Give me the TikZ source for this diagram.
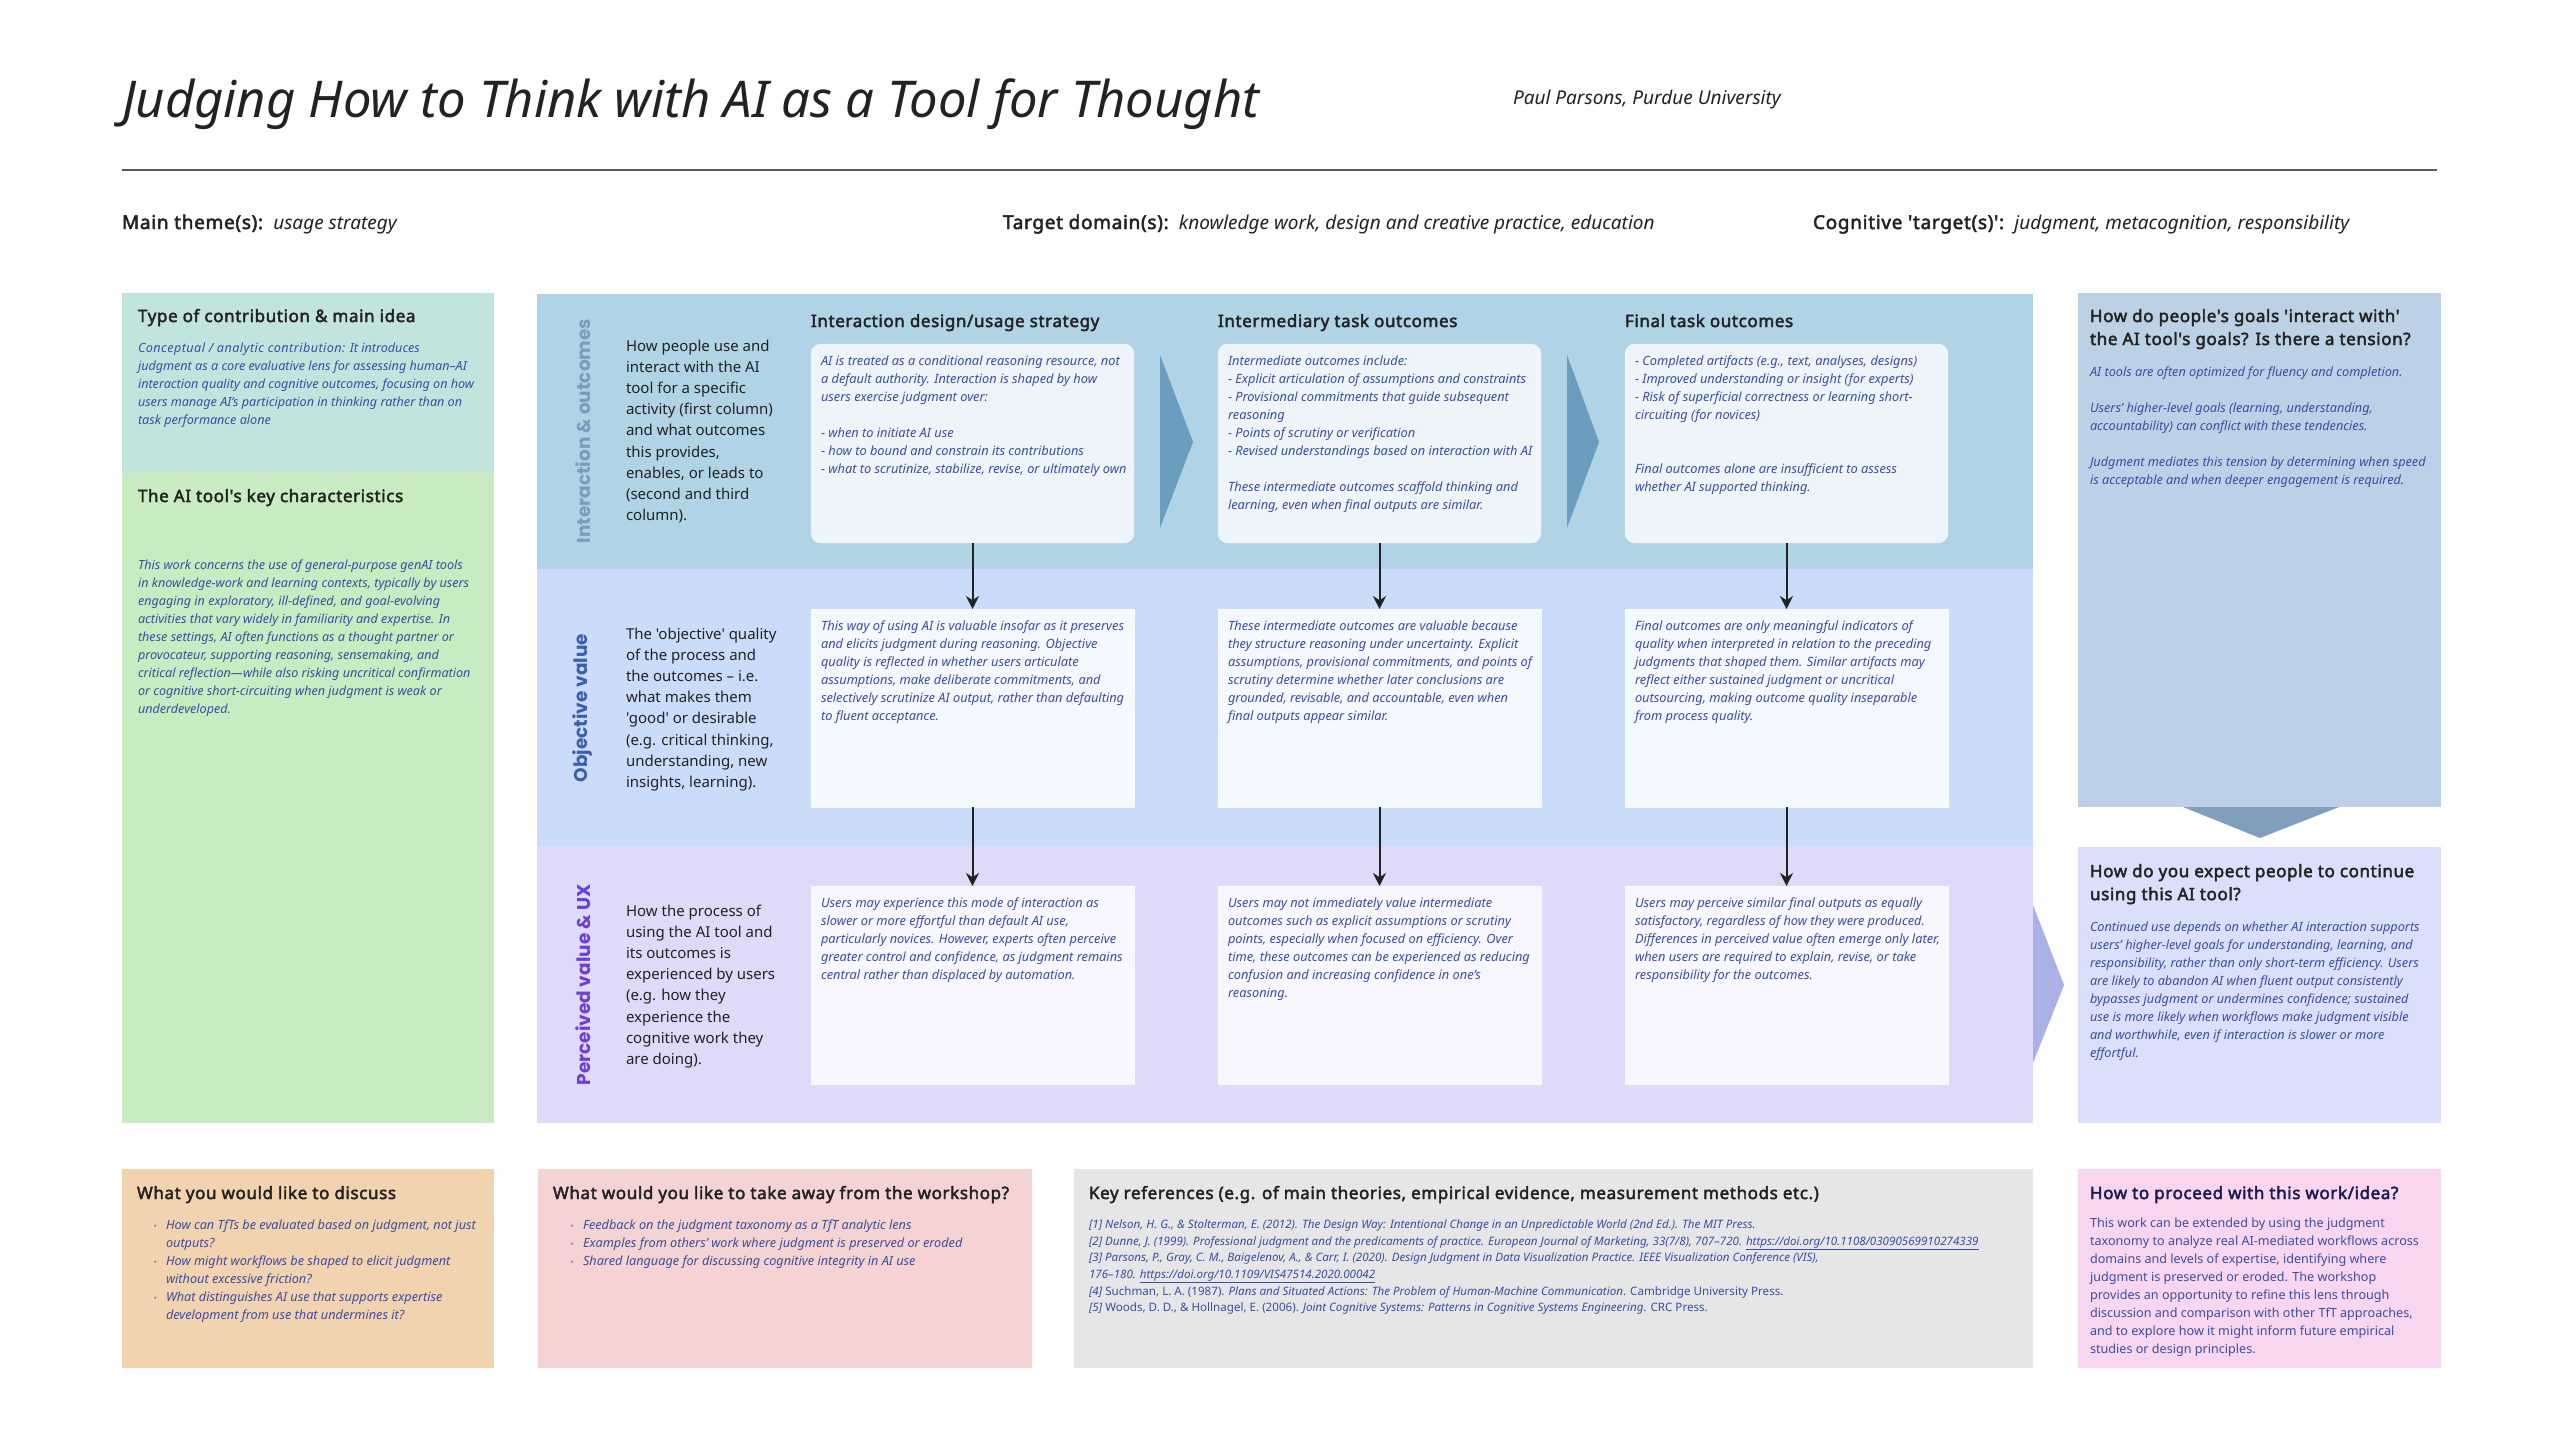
\documentclass[tikz,border=0pt]{standalone}
\usepackage{fontspec}
\setmainfont{Noto Sans}[Ligatures=TeXOff,AutoFakeBold=2.5,BoldFeatures={LetterSpace=3.6},BoldItalicFeatures={LetterSpace=3.6}]
\newcommand\hsz{17}
\newfontfamily\labfont{Poppins}
\usetikzlibrary{arrows.meta}
\definecolor{ink}{HTML}{222222}
\definecolor{tblue}{HTML}{3A4EA3}
\definecolor{rowA}{HTML}{B0D3E6}
\definecolor{rowB}{HTML}{CBDCFA}
\definecolor{rowC}{HTML}{DEDAFA}
\definecolor{boxA}{HTML}{EEF5FA}
\definecolor{boxB}{HTML}{F4F8FF}
\definecolor{boxC}{HTML}{F8F7FF}
\definecolor{chevA}{HTML}{6A9DBE}
\definecolor{chevC}{HTML}{A9B1E6}
\definecolor{chevR}{HTML}{7F9FBD}
\definecolor{rtop}{HTML}{BCD1E6}
\definecolor{rbot}{HTML}{DADFFB}
\definecolor{cteal}{HTML}{C1E4DD}
\definecolor{cgreen}{HTML}{C8EBC1}
\definecolor{corange}{HTML}{F2D3B0}
\definecolor{cpink}{HTML}{F5D3D2}
\definecolor{cgray}{HTML}{E6E6E6}
\definecolor{cmag}{HTML}{F8D6EF}
\definecolor{labA}{HTML}{7B9CBA}
\definecolor{labB}{HTML}{3B5FAE}
\definecolor{labC}{HTML}{6C3FD8}
\newcommand\fsz[2]{\fontsize{#1}{#2}\selectfont}
\newcommand\bul{{\upshape\fsz{9}{18}\textcolor{tblue!70}{•}}\hspace{9pt}}
\begin{document}
\begin{tikzpicture}[x=1pt,y=-1pt,
  every node/.style={inner sep=0pt,outer sep=0pt},
  head/.style={anchor=base west,font=\bfseries\fsz{\hsz}{23},text=ink},
  headml/.style={anchor=north west,align=left,font=\bfseries\fsz{\hsz}{23},text=ink},
  body/.style={anchor=north west,align=left,font=\itshape\fsz{12.6}{18},text=tblue},
  rbody/.style={anchor=north west,align=left,font=\itshape\fsz{12.7}{18},text=tblue},
  cell/.style={anchor=north west,align=left,font=\itshape\fsz{12.8}{18},text=tblue},
  desc/.style={anchor=north west,align=left,font=\fsz{15}{21.2},text=ink},
  rowlab/.style={rotate=90,font=\labfont\bfseries\fsz{18.5}{20}},
  theme/.style={anchor=base west,font=\fsz{19}{20},text=ink},
  cellbox/.style={anchor=north west,minimum width=323pt},
  cbA/.style={cellbox,minimum height=199pt,fill=boxA,draw=white!40!boxA,rounded corners=10pt},
  cbB/.style={cellbox,minimum height=198pt,fill=boxB,draw=white!40!boxB},
  cbC/.style={cellbox,minimum height=198pt,fill=boxC,draw=white!40!boxC},
  arr/.style={-{Stealth[length=13pt,width=13pt]},line width=2pt,draw=ink}]
\useasboundingbox (0,0) rectangle (2556,1454);
\fill[white] (0,0) rectangle (2556,1454);

% header
\node[anchor=base west,font=\itshape\fsz{50.7}{60},text=ink] (title) at (122,117) {Judging How to Think with AI as a Tool for Thought};
\node[anchor=base west,font=\itshape\fsz{19}{20},text=ink] (author) at (1513,104) {Paul Parsons, Purdue University};
\draw[line width=2.5pt,color=black!65] (122,170) -- (2437,170);
\node[theme] (th1) at (122,229) {\textbf{Main theme(s):}\enspace\textit{usage strategy}};
\node[theme] (th2) at (1003,229) {\textbf{Target domain(s):}\enspace\textit{knowledge work, design and creative practice, education}};
\node[theme] (th3) at (1813,229) {\textbf{Cognitive 'target(s)':}\enspace\textit{judgment, metacognition, responsibility}};

% left column
\fill[cteal] (122,293) rectangle (494,472);
\fill[cgreen] (122,472) rectangle (494,1123);
\node[head] (lt1) at (138,322) {Type of contribution \& main idea};
\node[body] (lb1) at (138,340) {\strut\textbf{Conceptual / analytic contribution:} It introduces\\judgment as a core evaluative lens for assessing human–AI\\interaction quality and cognitive outcomes, focusing on how\\users manage AI’s participation in thinking rather than on\\task performance alone};
\node[head] (lt2) at (138,502) {The AI tool's key characteristics};
\node[body] (lb2) at (138,557) {\strut This work concerns the use of general-purpose genAI tools\\in knowledge-work and learning contexts, typically by users\\engaging in exploratory, ill-defined, and goal-evolving\\activities that vary widely in familiarity and expertise. In\\these settings, AI often functions as a thought partner or\\provocateur, supporting reasoning, sensemaking, and\\critical reflection—while also risking uncritical confirmation\\or cognitive short-circuiting when judgment is weak or\\underdeveloped.};

% main panel rows
\fill[rowA] (537,294) rectangle (2033,569);
\fill[rowB] (537,569) rectangle (2033,846);
\fill[rowC] (537,846) rectangle (2033,1123);
\fill[chevC] (2033,905) -- (2064,985) -- (2033,1063) -- cycle;

\node[rowlab,text=labA] (labA) at (583,431) {Interaction \& outcomes};
\node[rowlab,text=labB] (labB) at (583,708) {Objective value};
\node[rowlab,text=labC] (labC) at (583,985) {Perceived value \& UX};

\node[desc] (dA) at (626,336.2) {\strut How people use and\\interact with the AI\\tool for a specific\\activity (first column)\\and what outcomes\\this provides,\\enables, or leads to\\(second and third\\column).};
\node[desc] (dB) at (626,624.2) {\strut The 'objective' quality\\of the process and\\the outcomes – i.e.\\what makes them\\'good' or desirable\\(e.g. critical thinking,\\understanding, new\\insights, learning).};
\node[desc] (dC) at (626,901.2) {\strut How the process of\\using the AI tool and\\its outcomes is\\experienced by users\\(e.g. how they\\experience the\\cognitive work they\\are doing).};

\node[head] (h1) at (811,327) {Interaction design/usage strategy};
\node[head] (h2) at (1218,327) {Intermediary task outcomes};
\node[head] (h3) at (1625,327) {Final task outcomes};

% row 1 boxes
\node[cbA] (b11) at (811,344) {};
\node[cbA] (b12) at (1218,344) {};
\node[cbA] (b13) at (1625,344) {};
\fill[chevA] (1160,355) -- (1193,442) -- (1160,528) -- cycle;
\fill[chevA] (1567,355) -- (1599,442) -- (1567,528) -- cycle;
% row 2 boxes
\node[cbB] (b21) at (811,609) {};
\node[cbB] (b22) at (1218,609) {};
\node[cbB] (b23) at (1625,609) {};
% row 3 boxes
\node[cbC] (b31) at (811,886) {};
\node[cbC] (b32) at (1218,886) {};
\node[cbC] (b33) at (1625,886) {};

\draw[arr] (b11.south) -- (b21.north);
\draw[arr] (b12.south) -- (b22.north);
\draw[arr] (b13.south) -- (b23.north);
\draw[arr] (b21.south) -- (b31.north);
\draw[arr] (b22.south) -- (b32.north);
\draw[arr] (b23.south) -- (b33.north);

\node[cell] (t11) at (821,353) {\strut AI is treated as a conditional reasoning resource, not\\a default authority. Interaction is shaped by how\\users exercise judgment over:\\[18pt]- when to initiate AI use\\- how to bound and constrain its contributions\\- what to scrutinize, stabilize, revise, or ultimately own};
\node[cell] (t12) at (1228,353) {\strut Intermediate outcomes include:\\- Explicit articulation of assumptions and constraints\\- Provisional commitments that guide subsequent\\reasoning\\- Points of scrutiny or verification\\- Revised understandings based on interaction with AI\\[18pt]These intermediate outcomes scaffold thinking and\\learning, even when final outputs are similar.};
\node[cell] (t13) at (1635,353) {\strut - Completed artifacts (e.g., text, analyses, designs)\\- Improved understanding or insight (for experts)\\- Risk of superficial correctness or learning short-\\circuiting (for novices)\\[36pt]Final outcomes alone are insufficient to assess\\whether AI supported thinking.};

\node[cell] (t21) at (821,618) {\strut This way of using AI is valuable insofar as it preserves\\and elicits judgment during reasoning. Objective\\quality is reflected in whether users articulate\\assumptions, make deliberate commitments, and\\selectively scrutinize AI output, rather than defaulting\\to fluent acceptance.};
\node[cell] (t22) at (1228,618) {\strut These intermediate outcomes are valuable because\\they structure reasoning under uncertainty. Explicit\\assumptions, provisional commitments, and points of\\scrutiny determine whether later conclusions are\\grounded, revisable, and accountable, even when\\final outputs appear similar.};
\node[cell] (t23) at (1635,618) {\strut Final outcomes are only meaningful indicators of\\quality when interpreted in relation to the preceding\\judgments that shaped them. Similar artifacts may\\reflect either sustained judgment or uncritical\\outsourcing, making outcome quality inseparable\\from process quality.};

\node[cell] (t31) at (821,895) {\strut Users may experience this mode of interaction as\\slower or more effortful than default AI use,\\particularly novices. However, experts often perceive\\greater control and confidence, as judgment remains\\central rather than displaced by automation.};
\node[cell] (t32) at (1228,895) {\strut Users may not immediately value intermediate\\outcomes such as explicit assumptions or scrutiny\\points, especially when focused on efficiency. Over\\time, these outcomes can be experienced as reducing\\confusion and increasing confidence in one’s\\reasoning.};
\node[cell] (t33) at (1635,895) {\strut Users may perceive similar final outputs as equally\\satisfactory, regardless of how they were produced.\\Differences in perceived value often emerge only later,\\when users are required to explain, revise, or take\\responsibility for the outcomes.};

% right column
\fill[rtop] (2078,293) rectangle (2441,807);
\fill[chevR] (2183,807) -- (2260,838) -- (2339,807) -- cycle;
\fill[rbot] (2078,847) rectangle (2441,1123);
\node[headml] (rt1) at (2090,305.9) {\strut How do people's goals 'interact with'\\the AI tool's goals? Is there a tension?};
\node[rbody] (rb1) at (2090,363.5) {\strut AI tools are often optimized for fluency and completion.\\[18pt]Users’ higher-level goals (learning, understanding,\\accountability) can conflict with these tendencies.\\[18pt]Judgment mediates this tension by determining when speed\\is acceptable and when deeper engagement is required.};
\node[headml] (rt2) at (2090,861) {\strut How do you expect people to continue\\using this AI tool?};
\node[rbody] (rb2) at (2090,918.5) {\strut Continued use depends on whether AI interaction supports\\users’ higher-level goals for understanding, learning, and\\responsibility, rather than only short-term efficiency. Users\\are likely to abandon AI when fluent output consistently\\bypasses judgment or undermines confidence; sustained\\use is more likely when workflows make judgment visible\\and worthwhile, even if interaction is slower or more\\effortful.};

% bottom row
\fill[corange] (122,1169) rectangle (494,1368);
\fill[cpink] (538,1169) rectangle (1032,1368);
\fill[cgray] (1074,1169) rectangle (2033,1368);
\fill[cmag] (2078,1169) rectangle (2441,1368);
\node[head] (bt1) at (137,1199) {What you would like to discuss};
\node[head] (bt2) at (553,1199) {What would you like to take away from the workshop?};
\node[head] (bt3) at (1089,1199) {Key references (e.g. of main theories, empirical evidence, measurement methods etc.)};
\node[head,text=ink!80!blue] (bt4) at (2090,1199) {How to proceed with this work/idea?};
\node[cell,font=\itshape\fsz{12.7}{18}] (bb1) at (166,1216.5) {\strut\llap{\bul}How can TfTs be evaluated based on judgment, not just\\outputs?\\\llap{\bul}How might workflows be shaped to elicit judgment\\without excessive friction?\\\llap{\bul}What distinguishes AI use that supports expertise\\development from use that undermines it?};
\node[cell,font=\itshape\fsz{12.7}{18}] (bb2) at (583,1216.5) {\strut\llap{\bul}Feedback on the judgment taxonomy as a TfT analytic lens\\\llap{\bul}Examples from others’ work where judgment is preserved or eroded\\\llap{\bul}Shared language for discussing cognitive integrity in AI use};
\node[anchor=north west,align=left,font=\fsz{11.6}{16.6},text=tblue] (bb3) at (1089,1217) {\strut\textit{[1] Nelson, H. G., \& Stolterman, E. (2012). The Design Way: Intentional Change in an Unpredictable World (2nd Ed.). The MIT Press.}\\{}\textit{[2] Dunne, J. (1999). Professional judgment and the predicaments of practice. European Journal of Marketing, 33(7/8), 707–720. \underline{https://doi.org/10.1108/03090569910274339}}\\{}\textit{[3] Parsons, P., Gray, C. M., Baigelenov, A., \& Carr, I. (2020). Design Judgment in Data Visualization Practice. IEEE Visualization Conference (VIS),}\\\textit{176–180. \underline{https://doi.org/10.1109/VIS47514.2020.00042}}\\{}\textit{[4]} Suchman, L. A. (1987). \textit{Plans and Situated Actions: The Problem of Human-Machine Communication}. Cambridge University Press.\\{}\textit{[5]} Woods, D. D., \& Hollnagel, E. (2006). \textit{Joint Cognitive Systems: Patterns in Cognitive Systems Engineering}. CRC Press.};
\node[anchor=north west,align=left,font=\fsz{12.6}{18},text=tblue] (bb4) at (2090,1214.8) {\strut This work can be extended by using the judgment\\taxonomy to analyze real AI-mediated workflows across\\domains and levels of expertise, identifying where\\judgment is preserved or eroded. The workshop\\provides an opportunity to refine this lens through\\discussion and comparison with other TfT approaches,\\and to explore how it might inform future empirical\\studies or design principles.};
\end{tikzpicture}
\end{document}
